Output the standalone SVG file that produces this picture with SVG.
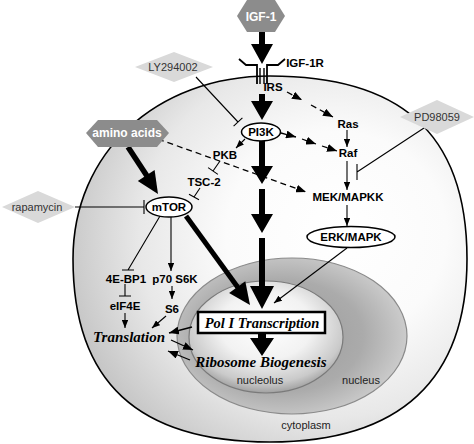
<svg xmlns="http://www.w3.org/2000/svg" width="474" height="444" viewBox="0 0 474 444">
<defs>
<radialGradient id="gCell" cx="0.65" cy="0.45" r="0.7" fx="0.68" fy="0.42">
<stop offset="0" stop-color="#ffffff"/>
<stop offset="0.4" stop-color="#fbfbfb"/>
<stop offset="0.7" stop-color="#e8e8e8"/>
<stop offset="1" stop-color="#c2c2c2"/>
</radialGradient>
<radialGradient id="gNuc" cx="0.45" cy="0.5" r="0.6">
<stop offset="0" stop-color="#989898"/>
<stop offset="0.6" stop-color="#ababab"/>
<stop offset="1" stop-color="#d4d4d4"/>
</radialGradient>
<radialGradient id="gNol" cx="0.5" cy="0.4" r="0.6">
<stop offset="0" stop-color="#ffffff"/>
<stop offset="0.5" stop-color="#f2f2f2"/>
<stop offset="0.85" stop-color="#cacaca"/>
<stop offset="1" stop-color="#a0a0a0"/>
</radialGradient>
<marker id="ah" viewBox="0 0 10 8" refX="10" refY="4" markerWidth="8" markerHeight="6.4" markerUnits="userSpaceOnUse" orient="auto"><path d="M0,0 L10,4 L0,8 z" fill="#000"/></marker>
<marker id="ahb" viewBox="0 0 10 8" refX="10" refY="4" markerWidth="10" markerHeight="8" markerUnits="userSpaceOnUse" orient="auto"><path d="M0,0 L10,4 L0,8 z" fill="#000"/></marker>
</defs>
<style>
.lbl{font-family:"Liberation Sans",Arial,sans-serif;font-weight:bold;font-size:11.5px;fill:#000;text-anchor:middle}
.wlbl{font-family:"Liberation Sans",Arial,sans-serif;font-weight:bold;font-size:12px;fill:#fff;text-anchor:middle}
.drug{font-family:"Liberation Sans",Arial,sans-serif;font-size:11px;fill:#333;text-anchor:middle}
.reg{font-family:"Liberation Sans",Arial,sans-serif;font-size:11px;fill:#222;text-anchor:middle}
.it{font-family:"Liberation Serif","Times New Roman",serif;font-style:italic;font-weight:bold;fill:#000;text-anchor:middle}
.hex{fill:#8c8c8c}
.dia{fill:#d9d9d9}
.ell{fill:#fff;stroke:#000;stroke-width:1.5}
.ln{fill:none;stroke:#000;stroke-width:1.1}
.arr{fill:none;stroke:#000;stroke-width:1.1;marker-end:url(#ah)}
.darr{fill:none;stroke:#000;stroke-width:1.3;stroke-dasharray:6,4;marker-end:url(#ahb)}
.barr{fill:none;stroke:#000;stroke-width:1.3;marker-end:url(#ahb)}
.thick{fill:#000}
</style>

<g id="compartments">
<path id="cytoplasm" d="M270,76 C396,76 467,129 467,259 C467,380 400,442 270,442 C138,442 73,382 73,259 C73,153 156,76 270,76 Z" fill="url(#gCell)" stroke="#000" stroke-width="1.6"/>
<ellipse id="nucleus" cx="292" cy="336" rx="115" ry="78" fill="url(#gNuc)" stroke="#8a8a8a" stroke-width="1.2"/>
<ellipse id="nucleolus" cx="266" cy="337" rx="77" ry="56" fill="url(#gNol)" stroke="#7a7a7a" stroke-width="1.2"/>
<text class="reg" x="260" y="384">nucleolus</text>
<text class="reg" x="361" y="384">nucleus</text>
<text class="reg" x="306" y="429">cytoplasm</text>
</g>

<g id="connectors">
<path class="thick" d="M259,32 H265 V44 H273 L262,64 L251,44 H259 Z"/>
<path class="thick" d="M259,94 H265 V101 H273 L262,120 L251,101 H259 Z"/>
<path class="thick" d="M259,141 H265 V166 H273 L262,184 L251,166 H259 Z"/>
<path class="thick" d="M259,189 H265 V214 H273 L262,233 L251,214 H259 Z"/>
<path class="thick" d="M259,238 H265 V286 H274 L262,309 L250,286 H259 Z"/>
<path class="thick" d="M258,333 H266 V338 H274 L262,356 L250,338 H258 Z"/>
<line x1="186" y1="216" x2="239" y2="289" stroke="#000" stroke-width="5"/>
<polygon class="thick" points="245.3,281.3 250,305 229.1,292.9"/>
<line x1="128" y1="147" x2="147" y2="176" stroke="#000" stroke-width="5.5"/>
<polygon class="thick" points="154.6,170.1 158,194 137.8,180.9"/>
<path class="darr" d="M287,92 L302,100"/>
<path class="darr" d="M311,105 L333,117"/>
<path class="darr" d="M281,133 L296,137"/>
<path class="darr" d="M302,139 L316,144"/>
<path class="darr" d="M322,146 L337,151"/>
<path class="darr" d="M158,139 L306,192"/>
<path class="arr" d="M347,130 L347,147"/>
<path class="arr" d="M347,161 L347,190"/>
<path class="arr" d="M347,205 L347,226"/>
<path class="arr" d="M347,248 L274,303"/>
<path class="arr" d="M245,139 L236,148"/>
<path class="arr" d="M171,217 L171,271"/>
<path class="arr" d="M172,286 L172,299"/>
<path class="arr" d="M125,313 L125,328"/>
<path class="arr" d="M166,316 L152,328"/>
<path class="barr" d="M192,327 L169,333"/>
<path class="barr" d="M171,340 L193,350"/>
<path class="barr" d="M190,360 L168,351"/>
<path class="ln" d="M196,77 L238,122 M242.4,117.9 L233.6,126.1"/>
<path class="ln" d="M424,128 L357,172 M357,164 L357,180"/>
<path class="ln" d="M75,207 L144,207 M144,200 L144,214"/>
<path class="ln" d="M220,161 L213,171 M217.9,174.4 L208.1,167.6"/>
<path class="ln" d="M200,188 L194,197 M199,199.8 L189,194.2"/>
<path class="ln" d="M160,216 L128,270 M122,270 L134,270"/>
<path class="ln" d="M125,284 L125,296 M119,296 L131,296"/>
</g>

<g id="IGF-1">
<polygon class="hex" points="237,16 247,0 275,0 285,16 275,32 247,32"/>
<text class="wlbl" x="261" y="21">IGF-1</text>
</g>
<g id="IGF-1R">
<path d="M239,59 L246,65 L257,65 L257,84 M285,59 L278,65 L267,65 L267,84" fill="none" stroke="#000" stroke-width="1.8"/>
<path d="M260,68 L260,84 M264,68 L264,84" fill="none" stroke="#000" stroke-width="1.4"/>
<text class="lbl" x="305" y="67">IGF-1R</text>
</g>
<g id="IRS"><text class="lbl" x="273" y="91">IRS</text></g>
<g id="LY294002">
<polygon class="dia" points="135,67 174,52 213,67 174,82"/>
<text class="drug" x="173" y="71">LY294002</text>
</g>
<g id="PI3K">
<ellipse class="ell" cx="261" cy="132" rx="19.5" ry="9"/>
<text class="lbl" x="261" y="136">PI3K</text>
</g>
<g id="Ras"><text class="lbl" x="348" y="128">Ras</text></g>
<g id="Raf"><text class="lbl" x="348" y="157">Raf</text></g>
<g id="PD98059">
<polygon class="dia" points="400,117 437,100 474,117 437,134"/>
<text class="drug" x="437" y="121">PD98059</text>
</g>
<g id="MEK"><text class="lbl" x="348" y="201">MEK/MAPKK</text></g>
<g id="ERK">
<ellipse class="ell" cx="351" cy="237" rx="44" ry="10.5"/>
<text class="lbl" x="351" y="241">ERK/MAPK</text>
</g>
<g id="amino-acids">
<polygon class="hex" points="86,133 98,120 157,120 169,133 157,147 98,147"/>
<text class="wlbl" x="127" y="137">amino acids</text>
</g>
<g id="PKB"><text class="lbl" x="225" y="159">PKB</text></g>
<g id="TSC-2"><text class="lbl" x="204" y="186">TSC-2</text></g>
<g id="rapamycin">
<polygon class="dia" points="2,207 38,191 75,207 38,223"/>
<text class="drug" x="37" y="211">rapamycin</text>
</g>
<g id="mTOR">
<ellipse class="ell" cx="169" cy="207" rx="23" ry="10"/>
<text class="lbl" x="169" y="211">mTOR</text>
</g>
<g id="4E-BP1"><text class="lbl" x="126" y="283">4E-BP1</text></g>
<g id="p70S6K"><text class="lbl" x="175" y="283">p70 S6K</text></g>
<g id="eIF4E"><text class="lbl" x="125" y="310">eIF4E</text></g>
<g id="S6"><text class="lbl" x="172" y="313">S6</text></g>
<g id="Translation"><text class="it" x="129" y="342" font-size="15">Translation</text></g>
<g id="PolI">
<rect x="198" y="312" width="127" height="21" fill="#fff" stroke="#000" stroke-width="2.5"/>
<text class="it" x="262" y="327.5" font-size="14.5">Pol I Transcription</text>
</g>
<g id="Ribosome"><text class="it" x="261" y="367" font-size="15">Ribosome Biogenesis</text></g>
</svg>
